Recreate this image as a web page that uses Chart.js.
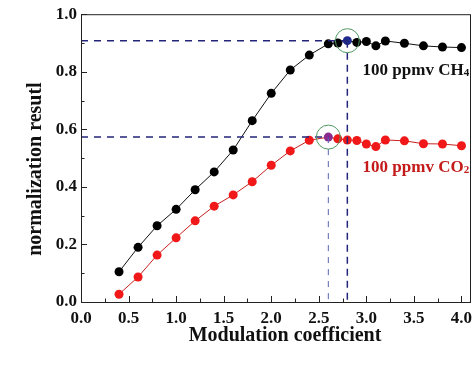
<!DOCTYPE html>
<html>
<head>
<meta charset="utf-8">
<script src="https://cdn.jsdelivr.net/npm/chart.js@4.4.1/dist/chart.umd.min.js"></script>
<style>
    html, body { margin: 0; padding: 0; background: #fff; }
    #chart { display: block; }
</style>
</head>
<body>
<canvas id="chart" width="474" height="368"></canvas>
<script>
const X_VALUES = [0.4, 0.6, 0.8, 1.0, 1.2, 1.4, 1.6, 1.8, 2.0, 2.2, 2.4, 2.6, 2.7, 2.8, 2.9, 3.0, 3.1, 3.2, 3.4, 3.6, 3.8, 4.0];
const CH4_VALUES = [0.105, 0.19, 0.265, 0.322, 0.39, 0.452, 0.528, 0.63, 0.725, 0.806, 0.858, 0.897, 0.900, 0.908, 0.902, 0.905, 0.890, 0.907, 0.899, 0.890, 0.886, 0.884];
const CO2_VALUES = [0.027, 0.087, 0.163, 0.223, 0.282, 0.333, 0.372, 0.418, 0.475, 0.525, 0.562, 0.573, 0.567, 0.563, 0.561, 0.549, 0.540, 0.563, 0.560, 0.550, 0.549, 0.543];

const X_TICKS = [0.0, 0.5, 1.0, 1.5, 2.0, 2.5, 3.0, 3.5, 4.0];
const X_MINOR_TICKS = [0.25, 0.75, 1.25, 1.75, 2.25, 2.75, 3.25, 3.75];
const Y_TICKS = [0.0, 0.2, 0.4, 0.6, 0.8, 1.0];
const Y_MINOR_TICKS = [0.1, 0.3, 0.5, 0.7, 0.9];

const CH4_PEAK_X = 2.8;
const CO2_PEAK_X = 2.6;

const SERIF = '"Liberation Serif", "Times New Roman", serif';

const ch4PeakY = CH4_VALUES[X_VALUES.indexOf(CH4_PEAK_X)];
const co2PeakY = CO2_VALUES[X_VALUES.indexOf(CO2_PEAK_X)];

function toPoints(xs, ys) {
    return xs.map((x, i) => ({ x, y: ys[i] }));
}

function guide(points, color, width, dash) {
    return {
        data: points,
        showLine: true,
        borderColor: color,
        borderWidth: width,
        borderDash: dash,
        pointRadius: 0,
        fill: false,
        order: 1
    };
}

function ring(x, y) {
    return {
        data: [{ x, y }],
        showLine: false,
        pointRadius: 12,
        pointBackgroundColor: 'rgba(0,0,0,0)',
        pointBorderColor: '#4f9a60',
        pointBorderWidth: 1,
        order: 0
    };
}

function drawFormula(ctx, base, sub, x, y, size, color) {
    ctx.fillStyle = color;
    ctx.textAlign = 'left';
    ctx.textBaseline = 'alphabetic';
    ctx.font = `bold ${size}px ${SERIF}`;
    ctx.fillText(base, x, y);
    const w = ctx.measureText(base).width;
    ctx.font = `bold ${Math.round(size * 0.62)}px ${SERIF}`;
    ctx.fillText(sub, x + w, y + 1);
}

const axisDecor = {
    id: 'axisDecor',
    afterDraw(chart) {
        const { ctx, chartArea: a, scales: { x, y } } = chart;
        ctx.save();
        ctx.strokeStyle = '#222';
        ctx.lineWidth = 1;
        ctx.strokeRect(a.left + 0.5, a.top + 0.5, a.right - a.left - 1, a.bottom - a.top);

        ctx.beginPath();
        X_TICKS.forEach((v) => {
            const px = Math.round(x.getPixelForValue(v)) + 0.5;
            ctx.moveTo(px, a.bottom);
            ctx.lineTo(px, a.bottom - 6);
        });
        X_MINOR_TICKS.forEach((v) => {
            const px = Math.round(x.getPixelForValue(v)) + 0.5;
            ctx.moveTo(px, a.bottom);
            ctx.lineTo(px, a.bottom - 3.5);
        });
        Y_TICKS.forEach((v) => {
            const py = Math.round(y.getPixelForValue(v)) + 0.5;
            ctx.moveTo(a.left, py);
            ctx.lineTo(a.left + 6, py);
        });
        Y_MINOR_TICKS.forEach((v) => {
            const py = Math.round(y.getPixelForValue(v)) + 0.5;
            ctx.moveTo(a.left, py);
            ctx.lineTo(a.left + 3.5, py);
        });
        ctx.stroke();

        // axis titles
        ctx.fillStyle = '#111';
        ctx.font = `bold 20px ${SERIF}`;
        ctx.textAlign = 'center';
        ctx.textBaseline = 'middle';
        ctx.fillText('Modulation coefficient', (a.left + a.right) / 2 + 9, a.bottom + 34);
        ctx.save();
        ctx.translate(36, (a.top + a.bottom) / 2 + 11);
        ctx.rotate(-Math.PI / 2);
        ctx.fillText('normalization resutl', 0, 0);
        ctx.restore();

        // series labels
        drawFormula(ctx, '100 ppmv CH', '4', x.getPixelForValue(2.96), y.getPixelForValue(0.79), 17, '#111');
        drawFormula(ctx, '100 ppmv CO', '2', x.getPixelForValue(2.96), y.getPixelForValue(0.451), 17, '#c41a1a');
        ctx.restore();
    }
};

new Chart(document.getElementById('chart'), {
    type: 'scatter',
    data: {
        datasets: [
            ring(CH4_PEAK_X, ch4PeakY),
            ring(CO2_PEAK_X, co2PeakY),
            guide([{ x: 0, y: ch4PeakY }, { x: CH4_PEAK_X, y: ch4PeakY }], '#24247a', 1.5, [7, 6]),
            guide([{ x: CH4_PEAK_X, y: ch4PeakY }, { x: CH4_PEAK_X, y: 0 }], '#24247a', 1.5, [7, 5]),
            guide([{ x: 0, y: co2PeakY }, { x: CO2_PEAK_X, y: co2PeakY }], '#24247a', 1.5, [7, 6]),
            guide([{ x: CO2_PEAK_X, y: co2PeakY }, { x: CO2_PEAK_X, y: 0 }], '#5a64b4', 1, [6, 6]),
            {
                data: toPoints(X_VALUES, CH4_VALUES),
                showLine: true,
                borderColor: '#111',
                borderWidth: 1,
                pointRadius: 4.5,
                pointBackgroundColor: X_VALUES.map((x) => (x === CH4_PEAK_X ? '#1e2a8c' : '#000')),
                pointBorderColor: X_VALUES.map((x) => (x === CH4_PEAK_X ? '#1e2a8c' : '#000')),
                pointBorderWidth: 0,
                order: 2
            },
            {
                data: toPoints(X_VALUES, CO2_VALUES),
                showLine: true,
                borderColor: '#c82020',
                borderWidth: 1,
                pointRadius: 4.5,
                pointBackgroundColor: X_VALUES.map((x) => (x === CO2_PEAK_X ? '#8a2a8e' : '#f01818')),
                pointBorderColor: X_VALUES.map((x) => (x === CO2_PEAK_X ? '#8a2a8e' : '#f01818')),
                pointBorderWidth: 0,
                order: 2
            }
        ]
    },
    options: {
        responsive: false,
        animation: false,
        layout: { autoPadding: false, padding: { left: 0, right: 3, top: 14, bottom: 0 } },
        plugins: {
            legend: { display: false },
            tooltip: { enabled: false }
        },
        scales: {
            x: {
                type: 'linear',
                min: 0,
                max: 4.1,
                afterBuildTicks: (scale) => { scale.ticks = X_TICKS.map((value) => ({ value })); },
                afterFit: (scale) => {
                    scale.height = 66;
                    scale.paddingRight = 0;
                    scale.paddingLeft = 0;
                },
                grid: { display: false, drawTicks: false },
                border: { display: false },
                ticks: {
                    padding: 6,
                    maxRotation: 0,
                    color: '#111',
                    font: { family: SERIF, size: 17, weight: 'bold' },
                    callback: (value) => Number(value).toFixed(1)
                }
            },
            y: {
                type: 'linear',
                min: 0,
                max: 1.0,
                afterBuildTicks: (scale) => { scale.ticks = Y_TICKS.map((value) => ({ value })); },
                afterFit: (scale) => { scale.width = 81; },
                grid: { display: false, drawTicks: false },
                border: { display: false },
                ticks: {
                    padding: 4,
                    color: '#111',
                    font: { family: SERIF, size: 17, weight: 'bold' },
                    callback: (value) => Number(value).toFixed(1)
                }
            }
        }
    },
    plugins: [axisDecor]
});
</script>
</body>
</html>
